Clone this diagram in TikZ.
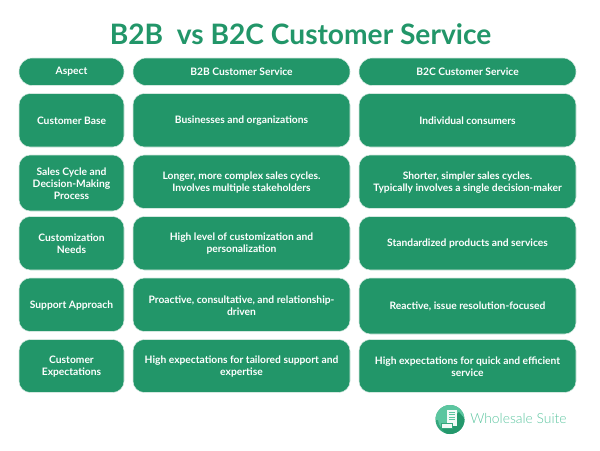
\documentclass[tikz,border=0pt]{standalone}
\usepackage{fontspec}
\setmainfont{Lato}
\newfontfamily\logofont[UprightFont=* Light]{Lato}
\usetikzlibrary{positioning}
\definecolor{grn}{HTML}{229669}
\definecolor{edgec}{HTML}{D5E9E1}
\definecolor{logoc}{HTML}{5CC6A0}
\definecolor{logod}{HTML}{33A67C}
\tikzset{x=0.75pt,y=-0.75pt,
 cell/.style={fill=grn,draw=edgec,line width=0.4pt,rounded corners=8.5pt},
 celltext/.style={text=white,font=\bfseries\fontsize{7.7}{8.8}\selectfont,align=center,inner sep=0pt},
 headtext/.style={celltext}}
\newcommand{\cellbox}[6]{% name x0 y0 x1 y1 text
 \draw[cell] (#2,#3) rectangle (#4,#5);
 \node[celltext] (#1) at ({(#2+#4)/2},{(#3+#5)/2+0.6}) {#6};}
\begin{document}
\begin{tikzpicture}
\useasboundingbox (0,0) rectangle (600,450);
\fill[white] (0,0) rectangle (600,450);
\node[text=grn,font=\bfseries\fontsize{21.1}{26}\selectfont,inner sep=0pt] (title) at (300.5,34) {B2B\ \ vs B2C Customer Service};
\draw[cell,rounded corners=10pt] (19,58) rectangle (124,85.5);
\draw[cell,rounded corners=10pt] (133,58) rectangle (350,85.5);
\draw[cell,rounded corners=10pt] (359,58) rectangle (576,85.5);
\node[headtext] (h1) at (71.5,71.8) {Aspect};
\node[headtext] (h2) at (241.5,71.8) {B2B Customer Service};
\node[headtext] (h3) at (467.5,71.8) {B2C Customer Service};
\cellbox{a1}{19}{93.5}{124}{147}{Customer Base}
\cellbox{b1}{133}{93.5}{350}{147}{Businesses and organizations}
\cellbox{c1}{359}{93.5}{576}{147}{Individual consumers}
\cellbox{a2}{19}{155}{124}{211}{Sales Cycle and\\Decision-Making\\Process}
\cellbox{b2}{133}{155}{350}{208.5}{Longer, more complex sales cycles.\\Involves multiple stakeholders}
\cellbox{c2}{359}{155}{576}{208.5}{Shorter, simpler sales cycles.\\Typically involves a single decision-maker}
\cellbox{a3}{19}{216.5}{124}{270}{Customization\\Needs}
\cellbox{b3}{133}{216.5}{350}{270}{High level of customization and\\personalization}
\cellbox{c3}{359}{216.5}{576}{270}{Standardized products and services}
\cellbox{a4}{19}{278}{124}{331.5}{Support Approach}
\cellbox{b4}{133}{278}{350}{331.5}{Proactive, consultative, and relationship-\\driven}
\cellbox{c4}{359}{278}{576}{334}{Reactive, issue resolution-focused}
\cellbox{a5}{19}{339.5}{124}{392.5}{Customer\\Expectations}
\cellbox{b5}{133}{339.5}{350}{392.5}{High expectations for tailored support and\\expertise}
\cellbox{c5}{359}{339.5}{576}{392.5}{High expectations for quick and efficient\\service}
% logo
\fill[logod] (450,419.5) circle (14.5);
\begin{scope}
\clip (450,419.5) circle (14.5);
\fill[logoc] (435,405) rectangle (465,420);
\fill[logoc] (450,419.5) circle (12);
\fill[grn!85!logod] (441,428) -- (459,412) -- (470,425) -- (458,440) -- (448,436) -- cycle;
\end{scope}
\fill[white!92!logoc] (447,409.5) rectangle (457,426);
\fill[white!92!logoc] (441.5,423.5) rectangle (452.5,428.5);
\draw[logod,line width=0.4pt] (441.5,423.5) rectangle (452.5,428.5);
\foreach \yy in {412,414.5,417,419.5}{\draw[logoc,line width=0.5pt] (449,\yy) -- (455,\yy);}
\node[text=logoc,anchor=west,font=\logofont\fontsize{10.4}{14}\selectfont,inner sep=0pt] (logo) at (470,419) {Wholesale Suite};
\end{tikzpicture}
\end{document}
